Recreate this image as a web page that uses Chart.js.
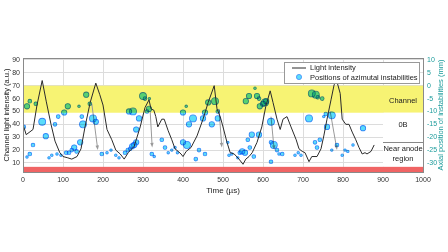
<!DOCTYPE html>
<html>
<head>
<meta charset="utf-8">
<script src="https://cdn.jsdelivr.net/npm/chart.js@4.4.1/dist/chart.umd.min.js"></script>
<style>
  html, body { margin: 0; padding: 0; background: #fff; }
  #wrap { width: 448px; height: 252px; }
</style>
</head>
<body>
<div id="wrap"><canvas id="lightChart" width="448" height="252"></canvas></div>
<script>
// light intensity trace (a.u.) vs time (µs)
const timeUs = [0, 8, 25, 35, 48, 58, 70, 80, 92, 100, 112, 122, 135, 145, 155, 168, 182, 192, 200, 210,
    222, 232, 243, 253, 263, 278, 285, 293, 305, 315, 320, 327, 332, 337, 347, 353, 363, 372, 380, 388,
    395, 400, 408, 420, 435, 450, 463, 478, 485, 493, 500, 510, 518, 528, 540, 550, 557, 565, 573, 585,
    597, 607, 618, 625, 635, 643, 650, 660, 670, 683, 690, 698, 705, 715, 722, 735, 745, 752, 760, 770,
    778, 785, 793, 798, 807, 815, 823, 832, 840, 848, 855, 860, 870, 878];
const lightIntensity = [40, 32, 36, 55, 74, 58, 40, 27, 18, 15, 14, 13, 15, 21, 38, 57, 72, 63, 55, 36,
    28, 20, 17, 13, 18, 23, 30, 38, 53, 59, 52, 51, 46, 38, 44, 44, 35, 28, 21, 19,
    17, 15, 19, 22, 31, 44, 57, 70, 52, 46, 38, 26, 18, 17, 13, 9, 13, 15, 18, 26,
    38, 54, 66, 57, 44, 36, 44, 46, 38, 28, 21, 19, 18, 11, 15, 15, 21, 31, 44, 59,
    71, 73, 64, 44, 40, 40, 34, 28, 22, 17, 18, 17, 19, 24];

// azimuthal instabilities: time (µs), axial position (mm), size class 1..4
const instabTime = [2, 10, 17, 10, 17, 25, 32, 48, 57, 65, 72, 80, 85, 88, 95, 103, 112, 108, 115, 122,
    128, 134, 143, 140, 147, 150, 158, 167, 175, 182, 197, 210, 220, 232, 240, 255, 262, 268, 273, 278,
    283, 265, 275, 283, 290, 300, 305, 310, 315, 316, 322, 328, 347, 355, 363, 372, 380, 386, 400, 408,
    400, 410, 415, 425, 432, 440, 450, 455, 455, 463, 472, 480, 487, 487,
    512, 515, 522, 537, 542, 548, 555, 557, 562, 565, 567, 572, 577, 580, 585, 590, 590, 592, 600, 605,
    608, 620, 620, 620, 627, 635, 640, 648, 680, 688, 695, 715, 722, 732, 737, 730, 735, 742, 748, 752,
    757, 760, 772, 772, 785, 798, 805, 812, 825, 850];
const instabPos = [-16, -8, -6, -27.7, -26.5, -23, -7, -14, -19.6, -28, -27, -15, -26.5, -12, -27, -10.4, -8, -26, -26, -25,
    -24, -25.5, -22, -8, -12, -15, -3.5, -7, -12.7, -14, -26.5, -26, -25, -27, -28, -26, -25, -24.5, -23.5, -23,
    -22, -10, -10, -17, -12.7, -4, -5, -10, -9, -5, -26.5, -27.5, -21, -24, -26, -25, -24, -26, -10.4, -8,
    -22, -23, -15, -12.7, -28.5, -25, -12.7, -26.5, -10.4, -6.5, -15, -6, -10, -12.7,
    -22, -27, -26.5, -28, -26, -25.5, -26, -6, -21, -4, -24, -19, -27.5, -1, -4, -19, -5, -8, -7, -6.5,
    -6, -14, -22, -29.5, -23, -25, -26.5, -26.5, -27, -26, -27, -12.7, -3, -3.5, -4.5, -22, -24, -21, -5, -12,
    -11, -16, -11.5, -25, -23, -27, -25, -25.5, -23, -16.5];
const instabSize = [2, 3, 2, 1, 2, 2, 2, 4, 3, 1, 1, 2, 1, 2, 1, 3, 3, 2, 2, 2,
    3, 2, 3, 1, 2, 4, 3, 2, 4, 3, 2, 1, 1, 1, 1, 2, 2, 2, 3, 3,
    3, 3, 4, 3, 3, 4, 2, 2, 3, 1, 2, 1, 2, 2, 1, 1, 1, 1, 3, 1,
    3, 4, 3, 4, 2, 2, 3, 2, 3, 3, 3, 4, 2, 3,
    1, 1, 1, 1, 2, 3, 3, 3, 2, 3, 2, 3, 2, 1, 3, 3, 2, 3, 3, 4,
    3, 4, 2, 2, 4, 2, 1, 2, 1, 1, 1, 4, 4, 4, 2, 2, 2, 2, 2, 1,
    2, 3, 4, 1, 2, 1, 1, 1, 1, 3];

// gray arrows (time µs, position mm)
const arrowX0 = [172, 318, 490, 620, 768];
const arrowY0 = [-7, -10, -9, -12, -10];
const arrowX1 = [187, 323, 497, 628, 785];
const arrowY1 = [-25, -24, -24, -25, -25];

// regions
const channelBand = [-10.5, 0];      // mm
const anodeStrip = [3, 7];           // a.u.
const regionStartX = 900;            // µs
const regionSplit = -22;             // mm
const regionLabels = ['Channel', '0B', 'Near anode', 'region'];
const regionLabelPos = [-5.8, -15.4, -24.6, -28.6];

const sizeRadius = [0, 1.3, 1.9, 2.7, 3.5];
const FONT = '"Liberation Sans", Arial, sans-serif';
const TEAL = '#1b9b9b';

const decorPlugin = {
    id: 'decor',
    beforeDatasetsDraw(chart) {
        const { ctx, chartArea: a, scales: { x, y, y2 } } = chart;
        const w = a.right - a.left;
        ctx.save();
        // channel band
        const yt = y2.getPixelForValue(channelBand[1]);
        const yb = y2.getPixelForValue(channelBand[0]);
        ctx.fillStyle = 'rgb(247,243,115)';
        ctx.fillRect(a.left, yt, w, yb - yt);
        // label area on the right
        const rx = x.getPixelForValue(regionStartX);
        const redTop = y.getPixelForValue(anodeStrip[1]);
        const redBot = y.getPixelForValue(anodeStrip[0]);
        ctx.fillStyle = '#fff';
        ctx.fillRect(rx, yb, a.right - rx, redTop - yb);
        ctx.strokeStyle = '#888';
        ctx.lineWidth = 1;
        const sy = Math.round(y2.getPixelForValue(regionSplit)) + 0.5;
        ctx.beginPath();
        ctx.moveTo(rx, sy);
        ctx.lineTo(a.right, sy);
        ctx.stroke();
        // red strip
        ctx.fillStyle = 'rgb(240,100,100)';
        ctx.fillRect(a.left, redTop, w, redBot - redTop);
        // arrows
        ctx.strokeStyle = '#9a9a9a';
        ctx.fillStyle = '#9a9a9a';
        for (let i = 0; i < arrowX0.length; i++) {
            const x0 = x.getPixelForValue(arrowX0[i]), y0 = y2.getPixelForValue(arrowY0[i]);
            const x1 = x.getPixelForValue(arrowX1[i]), y1 = y2.getPixelForValue(arrowY1[i]);
            const ang = Math.atan2(y1 - y0, x1 - x0);
            ctx.beginPath();
            ctx.moveTo(x0, y0);
            ctx.lineTo(x1 - 3 * Math.cos(ang), y1 - 3 * Math.sin(ang));
            ctx.stroke();
            ctx.beginPath();
            ctx.moveTo(x1, y1);
            ctx.lineTo(x1 - 5 * Math.cos(ang - 0.35), y1 - 5 * Math.sin(ang - 0.35));
            ctx.lineTo(x1 - 5 * Math.cos(ang + 0.35), y1 - 5 * Math.sin(ang + 0.35));
            ctx.closePath();
            ctx.fill();
        }
        ctx.restore();
    },
    beforeDatasetDraw(chart, args) {
        if (args.index === 1) {
            chart.ctx.save();
            chart.ctx.globalCompositeOperation = 'multiply';
        }
    },
    afterDatasetDraw(chart, args) {
        if (args.index === 1) chart.ctx.restore();
    },
    afterDraw(chart) {
        const { ctx, chartArea: a, scales: { x, y2 } } = chart;
        ctx.save();
        // frame
        ctx.strokeStyle = '#8a8a8a';
        ctx.lineWidth = 1;
        ctx.strokeRect(Math.round(a.left) + 0.5, Math.round(a.top) + 0.5,
            Math.round(a.right - a.left), Math.round(a.bottom - a.top));
        // region labels
        ctx.fillStyle = '#222';
        ctx.font = '7.5px ' + FONT;
        ctx.textAlign = 'center';
        ctx.textBaseline = 'middle';
        const cx = (x.getPixelForValue(regionStartX) + a.right) / 2;
        regionLabels.forEach((t, i) => ctx.fillText(t, cx, y2.getPixelForValue(regionLabelPos[i])));
        // legend
        const lx = a.right - 139, ly = a.top + 4;
        ctx.fillStyle = '#fff';
        ctx.fillRect(lx, ly, 135, 21);
        ctx.strokeStyle = '#999';
        ctx.strokeRect(lx + 0.5, ly + 0.5, 135, 21);
        ctx.strokeStyle = '#2b2b2b';
        ctx.beginPath();
        ctx.moveTo(lx + 8, ly + 6);
        ctx.lineTo(lx + 22, ly + 6);
        ctx.stroke();
        ctx.beginPath();
        ctx.arc(lx + 15, ly + 15, 2.6, 0, Math.PI * 2);
        ctx.fillStyle = 'rgb(90,220,250)';
        ctx.fill();
        ctx.strokeStyle = 'rgb(70,140,250)';
        ctx.lineWidth = 0.8;
        ctx.stroke();
        ctx.fillStyle = '#222';
        ctx.textAlign = 'left';
        ctx.font = '7.5px ' + FONT;
        ctx.fillText('Light intensity', lx + 26, ly + 6);
        ctx.fillText('Positions of azimutal instabilities', lx + 26, ly + 15.5);
        // right axis title (reads bottom to top)
        ctx.translate(441, (a.top + a.bottom) / 2);
        ctx.rotate(-Math.PI / 2);
        ctx.textAlign = 'center';
        ctx.fillStyle = TEAL;
        ctx.font = '7.5px ' + FONT;
        ctx.fillText('Axial position of instabilities (mm)', 0, 0);
        ctx.restore();
    }
};

function initChart() {
    const ctx = document.getElementById('lightChart').getContext('2d');
    const lineData = timeUs.map((t, i) => ({ x: t, y: lightIntensity[i] }));
    const instabData = instabTime.map((t, i) => ({ x: t, y: instabPos[i] }));

    new Chart(ctx, {
        type: 'scatter',
        data: {
            datasets: [{
                label: 'Light intensity',
                data: lineData,
                showLine: true,
                borderColor: '#2b2b2b',
                borderWidth: 1,
                pointRadius: 0,
                yAxisID: 'y',
                order: 0
            }, {
                label: 'Positions of azimutal instabilities',
                data: instabData,
                pointRadius: instabSize.map(s => sizeRadius[s]),
                backgroundColor: 'rgb(90,220,250)',
                borderColor: 'rgb(70,140,250)',
                borderWidth: 0.8,
                yAxisID: 'y2',
                order: 1
            }]
        },
        options: {
            responsive: false,
            animation: false,
            devicePixelRatio: 1,
            events: [],
            layout: { padding: { top: 58, bottom: 52, left: 0, right: 0 } },
            plugins: { legend: { display: false }, tooltip: { enabled: false } },
            scales: {
                x: {
                    type: 'linear',
                    min: 0,
                    max: 1000,
                    afterFit: s => { s.height = 28; },
                    ticks: { stepSize: 100, padding: 4, color: '#333', font: { size: 7, family: FONT }, maxRotation: 0,
                        callback: v => String(v) },
                    grid: { color: '#dcdcdc', drawTicks: false },
                    border: { color: '#777' },
                    title: { display: true, text: 'Time (µs)', color: '#222', padding: { top: 0, bottom: 4 }, font: { size: 8, family: FONT } }
                },
                y: {
                    position: 'left',
                    min: 3,
                    max: 91.5,
                    afterFit: s => { s.width = 23; },
                    ticks: { stepSize: 10, includeBounds: false, padding: 3, color: '#333', font: { size: 7, family: FONT } },
                    grid: { color: '#dcdcdc', drawTicks: false },
                    border: { color: '#777' },
                    title: { display: true, text: 'Channel light intensity (a.u.)', color: '#222', padding: { top: 2, bottom: 0 }, font: { size: 7.5, family: FONT } }
                },
                y2: {
                    position: 'right',
                    min: -33.5,
                    max: 10.75,
                    afterFit: s => { s.width = 25; },
                    ticks: { stepSize: 5, includeBounds: false, padding: 4, color: TEAL, font: { size: 7, family: FONT } },
                    grid: { display: false, drawTicks: false },
                    border: { color: '#777' }
                }
            }
        },
        plugins: [decorPlugin]
    });
}

document.addEventListener('DOMContentLoaded', initChart);
</script>
</body>
</html>
